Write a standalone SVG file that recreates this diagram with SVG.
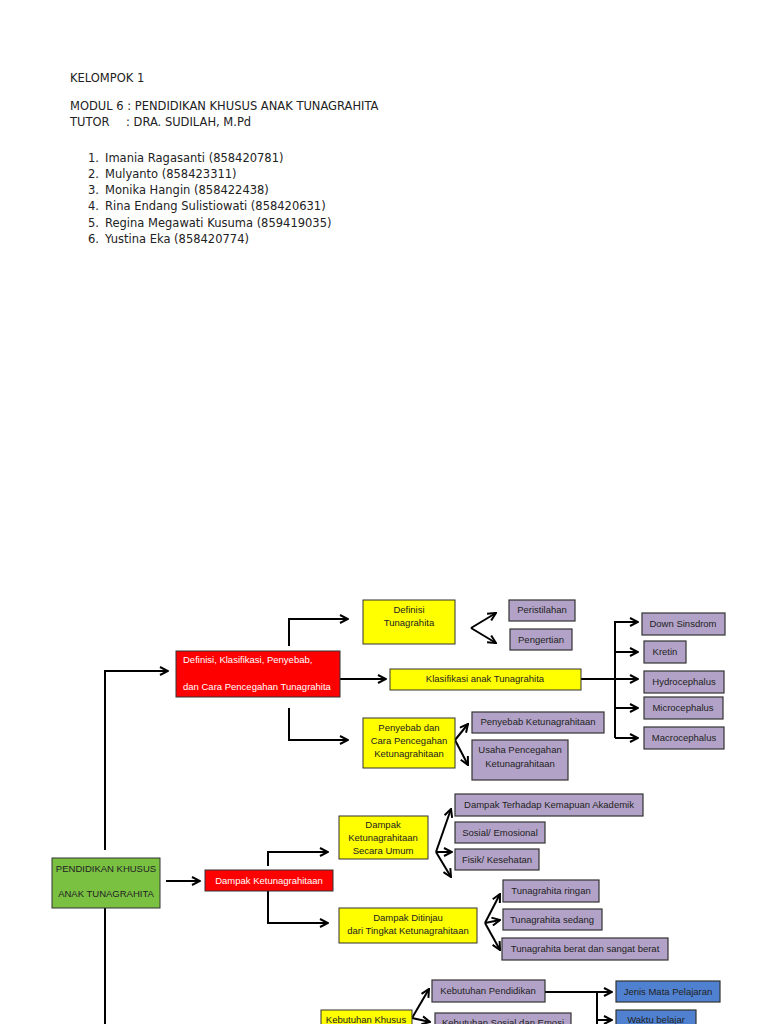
<svg xmlns="http://www.w3.org/2000/svg" width="768" height="1024" viewBox="0 0 768 1024">
<style>
.h{font-family:"DejaVu Sans","Liberation Sans",sans-serif;font-size:11.5px;fill:#222}
.t{font-family:"Liberation Sans",sans-serif;font-size:9.5px;fill:#222;text-anchor:middle}
.s{text-anchor:start}
.w{fill:#fff}
.y{fill:#ffff00;stroke:#333;stroke-width:1}
.r{fill:#ff0000;stroke:#333;stroke-width:1}
.g{fill:#7ac142;stroke:#333;stroke-width:1}
.p{fill:#b3a2c7;stroke:#333;stroke-width:1.2}
.b{fill:#4f81d0;stroke:#333;stroke-width:1.2}
.c{fill:none;stroke:#000;stroke-width:2}
.a{marker-end:url(#ah)}
</style>
<defs><marker id="ah" viewBox="0 0 10 10" refX="9" refY="5" markerWidth="5" markerHeight="5" orient="auto" markerUnits="strokeWidth"><path d="M1,1 L9,5 L1,9" fill="none" stroke="#000" stroke-width="2"/></marker></defs>
<rect width="768" height="1024" fill="#fff"/>
<g id="header" class="h">
<text x="70" y="82">KELOMPOK 1</text>
<text x="70" y="110">MODUL 6 : PENDIDIKAN KHUSUS ANAK TUNAGRAHITA</text>
<text x="70" y="126">TUTOR</text><text x="126" y="126">: DRA. SUDILAH, M.Pd</text>
<text x="88" y="162">1.</text><text x="105" y="162">Imania Ragasanti (858420781)</text>
<text x="88" y="178">2.</text><text x="105" y="178">Mulyanto (858423311)</text>
<text x="88" y="194">3.</text><text x="105" y="194">Monika Hangin (858422438)</text>
<text x="88" y="210">4.</text><text x="105" y="210">Rina Endang Sulistiowati (858420631)</text>
<text x="88" y="227">5.</text><text x="105" y="227">Regina Megawati Kusuma (859419035)</text>
<text x="88" y="243">6.</text><text x="105" y="243">Yustina Eka (858420774)</text>
</g>
<g id="connectors" class="c">
<path d="M105,850 V671 H168" class="a"/>
<path d="M105,908 V1024"/>
<path d="M340,679 H386" class="a"/>
<path d="M581,679 H638" class="a"/>
<path d="M615,738 V622 H638" class="a"/>
<path d="M615,652 H638" class="a"/>
<path d="M615,708 H638" class="a"/>
<path d="M615,738 H638" class="a"/>
<path d="M289,646 V619 H348" class="a"/>
<path d="M471,628 L496,613" class="a"/>
<path d="M471,628 L496,643" class="a"/>
<path d="M289,708 V740 H348" class="a"/>
<path d="M455,740 L468,724" class="a"/>
<path d="M455,740 L468,765" class="a"/>
<path d="M166,881 H200" class="a"/>
<path d="M268,866 V852 H328" class="a"/>
<path d="M268,891 V923 H328" class="a"/>
<path d="M436,852 L451,809" class="a"/>
<path d="M436,852 L452,852" class="a"/>
<path d="M436,852 L451,877" class="a"/>
<path d="M485,923 L500,894" class="a"/>
<path d="M485,923 L500,920" class="a"/>
<path d="M485,923 L500,950" class="a"/>
<path d="M412,1018 L429,989" class="a"/>
<path d="M412,1018 L430,1022" class="a"/>
<path d="M545,992 H612" class="a"/>
<path d="M597,992 V1024"/>
<path d="M597,1020 H612" class="a"/>
</g>
<g id="n-root"><rect class="g" x="52" y="858" width="108" height="50"/><text class="t" x="106" y="872">PENDIDIKAN KHUSUS</text><text class="t" x="106" y="897">ANAK TUNAGRAHITA</text></g>
<g id="n-red1"><rect class="r" x="176" y="651" width="164" height="46"/><text class="t w s" x="183" y="663">Definisi, Klasifikasi, Penyebab,</text><text class="t w s" x="183" y="690">dan Cara Pencegahan Tunagrahita</text></g>
<g id="n-klas"><rect class="y" x="390" y="669" width="191" height="21"/><text class="t" x="485" y="682">Klasifikasi anak Tunagrahita</text></g>
<g id="n-down"><rect class="p" x="642" y="613" width="83" height="22"/><text class="t" x="683" y="627">Down Sinsdrom</text></g>
<g id="n-kretin"><rect class="p" x="644" y="641" width="42" height="22"/><text class="t" x="665" y="655">Kretin</text></g>
<g id="n-hydro"><rect class="p" x="644" y="671" width="80" height="22"/><text class="t" x="684" y="685">Hydrocephalus</text></g>
<g id="n-micro"><rect class="p" x="644" y="697" width="79" height="22"/><text class="t" x="683" y="711">Microcephalus</text></g>
<g id="n-macro"><rect class="p" x="644" y="727" width="80" height="22"/><text class="t" x="684" y="741">Macrocephalus</text></g>
<g id="n-def"><rect class="y" x="363" y="600" width="92" height="44"/><text class="t" x="409" y="613">Definisi</text><text class="t" x="409" y="626">Tunagrahita</text></g>
<g id="n-peri"><rect class="p" x="509" y="600" width="66" height="21"/><text class="t" x="542" y="613">Peristilahan</text></g>
<g id="n-peng"><rect class="p" x="510" y="629" width="62" height="21"/><text class="t" x="541" y="643">Pengertian</text></g>
<g id="n-peny"><rect class="y" x="363" y="718" width="92" height="50"/><text class="t" x="409" y="731">Penyebab dan</text><text class="t" x="409" y="744">Cara Pencegahan</text><text class="t" x="409" y="757">Ketunagrahitaan</text></g>
<g id="n-pk"><rect class="p" x="472" y="712" width="132" height="21"/><text class="t" x="538" y="725">Penyebab Ketunagrahitaan</text></g>
<g id="n-usaha"><rect class="p" x="472" y="740" width="96" height="40"/><text class="t" x="520" y="753">Usaha Pencegahan</text><text class="t" x="520" y="767">Ketunagrahitaan</text></g>
<g id="n-red2"><rect class="r" x="205" y="870" width="128" height="21"/><text class="t w" x="269" y="884">Dampak Ketunagrahitaan</text></g>
<g id="n-dum"><rect class="y" x="339" y="816" width="89" height="43"/><text class="t" x="383" y="828">Dampak</text><text class="t" x="383" y="841">Ketunagrahitaan</text><text class="t" x="383" y="854">Secara Umum</text></g>
<g id="n-akad"><rect class="p" x="455" y="794" width="188" height="22"/><text class="t" x="549" y="808">Dampak Terhadap Kemapuan Akademik</text></g>
<g id="n-sos"><rect class="p" x="455" y="822" width="90" height="21"/><text class="t" x="500" y="836">Sosial/ Emosional</text></g>
<g id="n-fis"><rect class="p" x="455" y="849" width="84" height="21"/><text class="t" x="497" y="863">Fisik/ Kesehatan</text></g>
<g id="n-dti"><rect class="y" x="339" y="908" width="138" height="35"/><text class="t" x="408" y="921">Dampak Ditinjau</text><text class="t" x="408" y="934">dari Tingkat Ketunagrahitaan</text></g>
<g id="n-ringan"><rect class="p" x="503" y="880" width="96" height="22"/><text class="t" x="551" y="894">Tunagrahita ringan</text></g>
<g id="n-sedang"><rect class="p" x="503" y="909" width="99" height="21"/><text class="t" x="552" y="923">Tunagrahita sedang</text></g>
<g id="n-berat"><rect class="p" x="502" y="938" width="166" height="22"/><text class="t" x="585" y="952">Tunagrahita berat dan sangat berat</text></g>
<g id="n-kk"><rect class="y" x="321" y="1010" width="91" height="22"/><text class="t" x="366" y="1023">Kebutuhan Khusus</text></g>
<g id="n-kp"><rect class="p" x="432" y="980" width="113" height="22"/><text class="t" x="488" y="994">Kebutuhan Pendidikan</text></g>
<g id="n-ks"><rect class="p" x="435" y="1013" width="136" height="20"/><text class="t" x="503" y="1026">Kebutuhan Sosial dan Emosi</text></g>
<g id="n-jenis"><rect class="b" x="616" y="981" width="104" height="21"/><text class="t" x="668" y="995">Jenis Mata Pelajaran</text></g>
<g id="n-waktu"><rect class="b" x="616" y="1010" width="80" height="20"/><text class="t" x="656" y="1023">Waktu belajar</text></g>
</svg>
